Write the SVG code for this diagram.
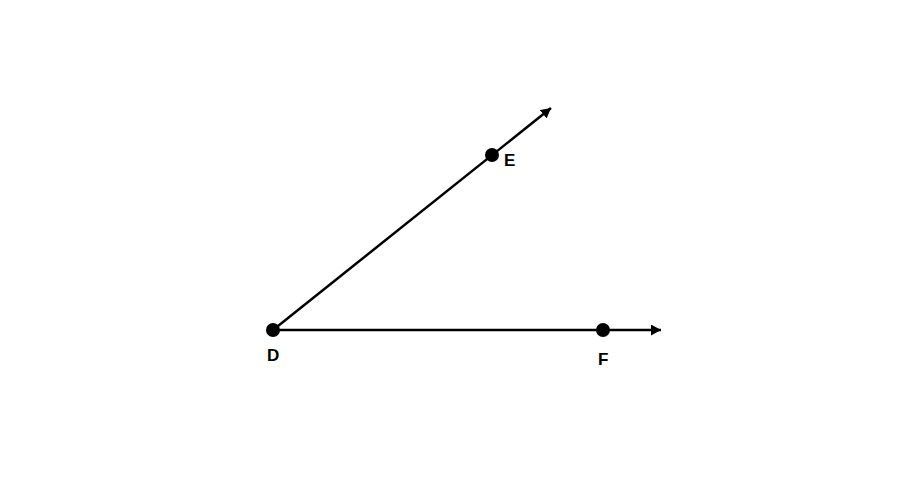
<svg xmlns="http://www.w3.org/2000/svg" width="917" height="502" viewBox="0 0 917 502">
<defs>
<style>
.ray{stroke:#000;stroke-width:2.5;fill:none;marker-end:url(#arr)}
.pt{fill:#000}
.lbl{font-family:"Liberation Sans",Arial,sans-serif;font-weight:bold;font-size:17px;fill:#000}
</style>
<marker id="arr" markerUnits="userSpaceOnUse" markerWidth="12" markerHeight="12" refX="10" refY="5.5" orient="auto">
<path d="M0,0 L10,5.5 L0,11 z" fill="#000"/>
</marker>
</defs>
<rect width="917" height="502" fill="#fff"/>
<g id="connectors">
<line class="ray" x1="273" y1="330" x2="551" y2="108"/>
<line class="ray" x1="273" y1="330" x2="661" y2="330"/>
</g>
<g id="D"><circle class="pt" cx="273" cy="330" r="7"/><text class="lbl" x="267" y="361">D</text></g>
<g id="E"><circle class="pt" cx="492" cy="155" r="7"/><text class="lbl" x="504" y="166">E</text></g>
<g id="F"><circle class="pt" cx="603" cy="330" r="7"/><text class="lbl" x="598" y="365">F</text></g>
</svg>
